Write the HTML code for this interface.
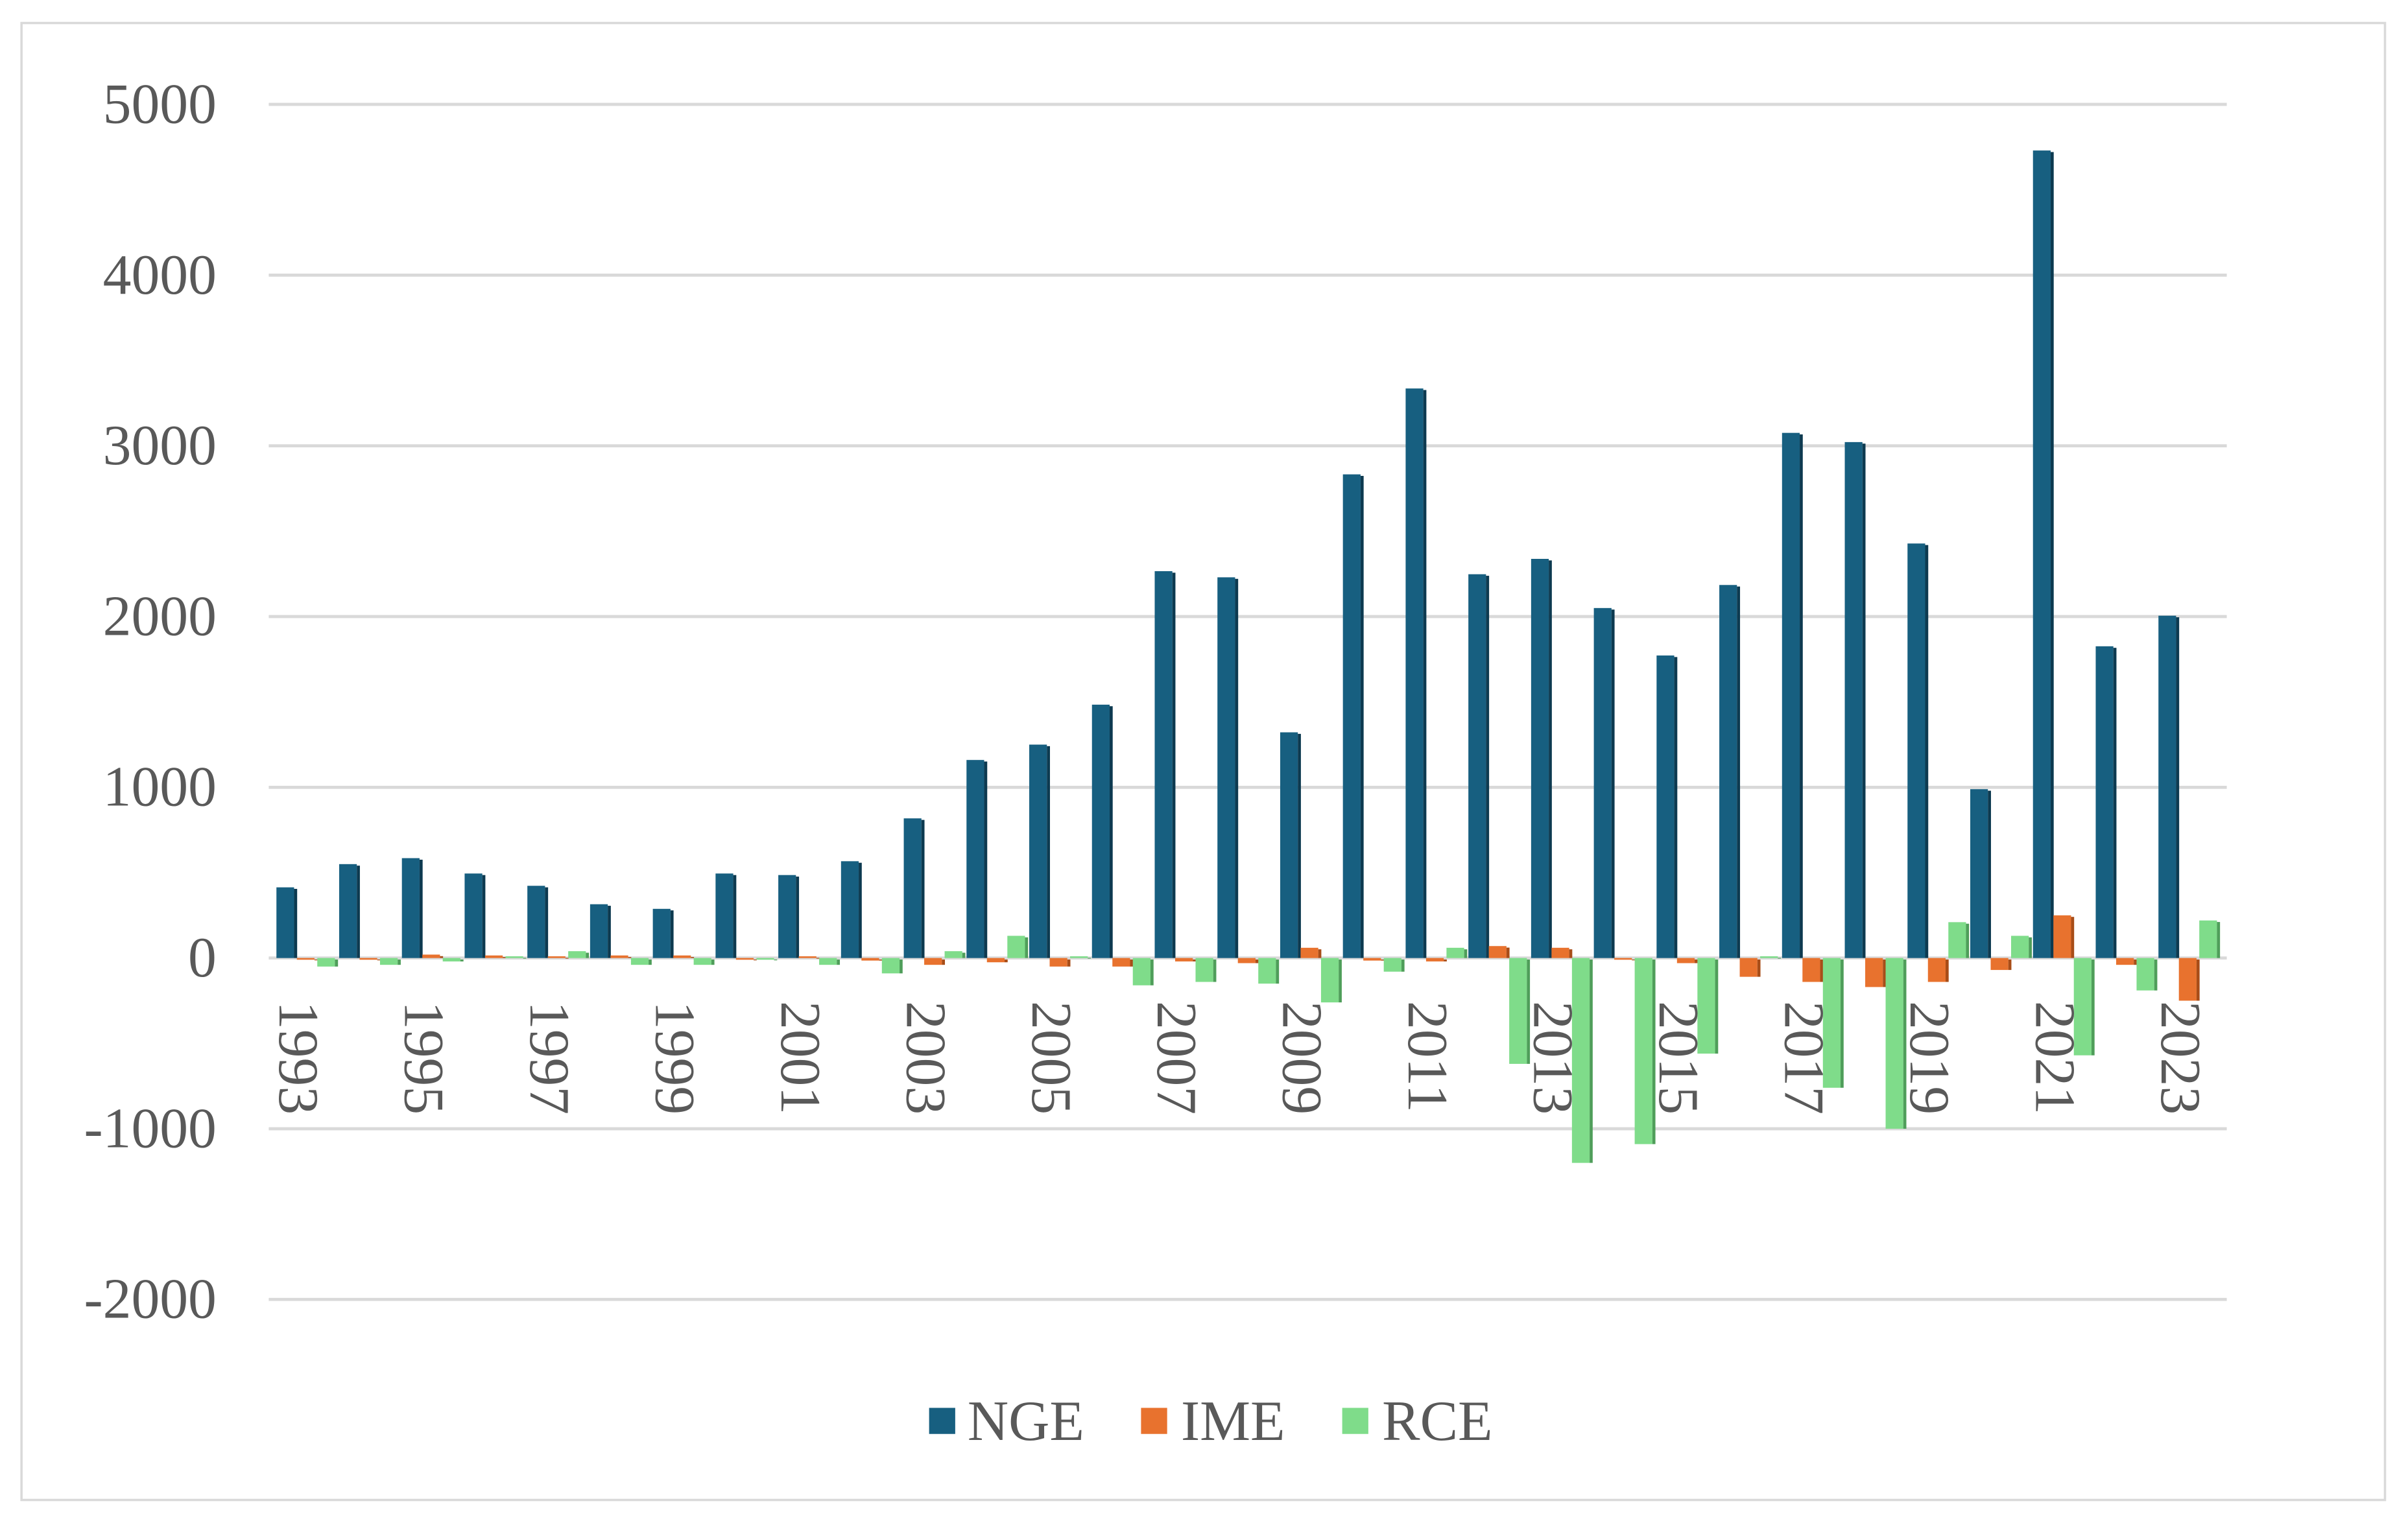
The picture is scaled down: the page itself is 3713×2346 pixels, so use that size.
<!DOCTYPE html>
<html><head><meta charset="utf-8"><style>
html,body{margin:0;padding:0;background:#fff;width:3713px;height:2346px;overflow:hidden}
svg{display:block}
text{font-family:"Liberation Serif",serif;fill:#595959}
</style></head><body>
<svg id="chart" width="3713" height="2346" viewBox="0 0 1568 990.7" preserveAspectRatio="none" xmlns="http://www.w3.org/2000/svg">
<rect x="14" y="15" width="1539" height="962" fill="#fff" stroke="#d9d9d9" stroke-width="1.5"/>
<g id="grid"></g><g id="bars"></g><g id="labels"></g>
<g>
<rect x="605" y="917" width="17" height="17" fill="#175f80"/>
<text x="630" y="938" font-size="37">NGE</text>
<rect x="743" y="917" width="17" height="17" fill="#e8722e"/>
<text x="769" y="938" font-size="37">IME</text>
<rect x="874" y="917" width="17" height="17" fill="#7fdc8a"/>
<text x="900" y="938" font-size="37">RCE</text>
</g>
</svg>
<script>
const years=[1993,1994,1995,1996,1997,1998,1999,2000,2001,2002,2003,2004,2005,2006,2007,2008,2009,2010,2011,2012,2013,2014,2015,2016,2017,2018,2019,2020,2021,2022,2023];
const nge=[414,550,585,495,423,315,288,495,486,567,818,1160,1250,1484,2266,2230,1322,2833,3336,2248,2338,2050,1772,2185,3076,3022,2428,989,4730,1826,2005];
const ime=[-10,-10,20,15,10,15,15,-10,10,-15,-40,-25,-50,-50,-20,-30,60,-15,-20,70,60,-10,-30,-110,-140,-170,-140,-70,250,-40,-250];
const rce=[-50,-40,-20,10,40,-40,-40,-10,-40,-90,40,130,10,-160,-140,-150,-260,-80,60,-620,-1200,-1090,-560,10,-760,-1000,210,130,-570,-190,220];
const yTicks=[5000,4000,3000,2000,1000,0,-1000,-2000];
const NS="http://www.w3.org/2000/svg";
const x0=175,x1=1450,yZero=624,pxPer=111.2/1000;
const cw=40.85;
const y=v=>yZero-v*pxPer;
const xc=i=>x0+i*cw;
function mk(t,a,p){const e=document.createElementNS(NS,t);for(const k in a)e.setAttribute(k,a[k]);p.appendChild(e);return e;}
const grid=document.getElementById('grid'),bars=document.getElementById('bars'),labels=document.getElementById('labels');
yTicks.forEach(v=>{
 const l=mk('line',{x1:x0,x2:x1,y1:y(v),y2:y(v),stroke:'#d9d9d9','stroke-width':2},grid);
 
 
 const t=mk('text',{x:141,y:y(v)+12,'text-anchor':'end','font-size':37},labels);
 t.textContent=v;
 
 
});
const series=[[nge,'#175f80','#0d3a50','nge'],[ime,'#e8722e','#a84d18','ime'],[rce,'#7fdc8a','#4f9e5a','rce']];
years.forEach((yr,i)=>{
 series.forEach((s,j)=>{
  const v=s[0][i];const bx=xc(i)+5+j*13.3;const top=Math.min(y(v),yZero),h=Math.abs(y(v)-yZero);
  const r=mk('rect',{x:bx,y:top,width:11.5,height:Math.max(h,0.5),fill:s[1]},bars);
  
  
  const sd=mk('rect',{x:bx+11.5,y:top+1,width:2,height:Math.max(h-1,0.5),fill:s[2]},bars);
  
  
 });
 if(i%2===0){
  const tx=xc(i)+7,ty=652;
  const t=mk('text',{x:tx,y:ty,'font-size':37,transform:`rotate(90 ${tx} ${ty})`},labels);
  t.textContent=yr;
  
  
 }
});
</script>
</body></html>
